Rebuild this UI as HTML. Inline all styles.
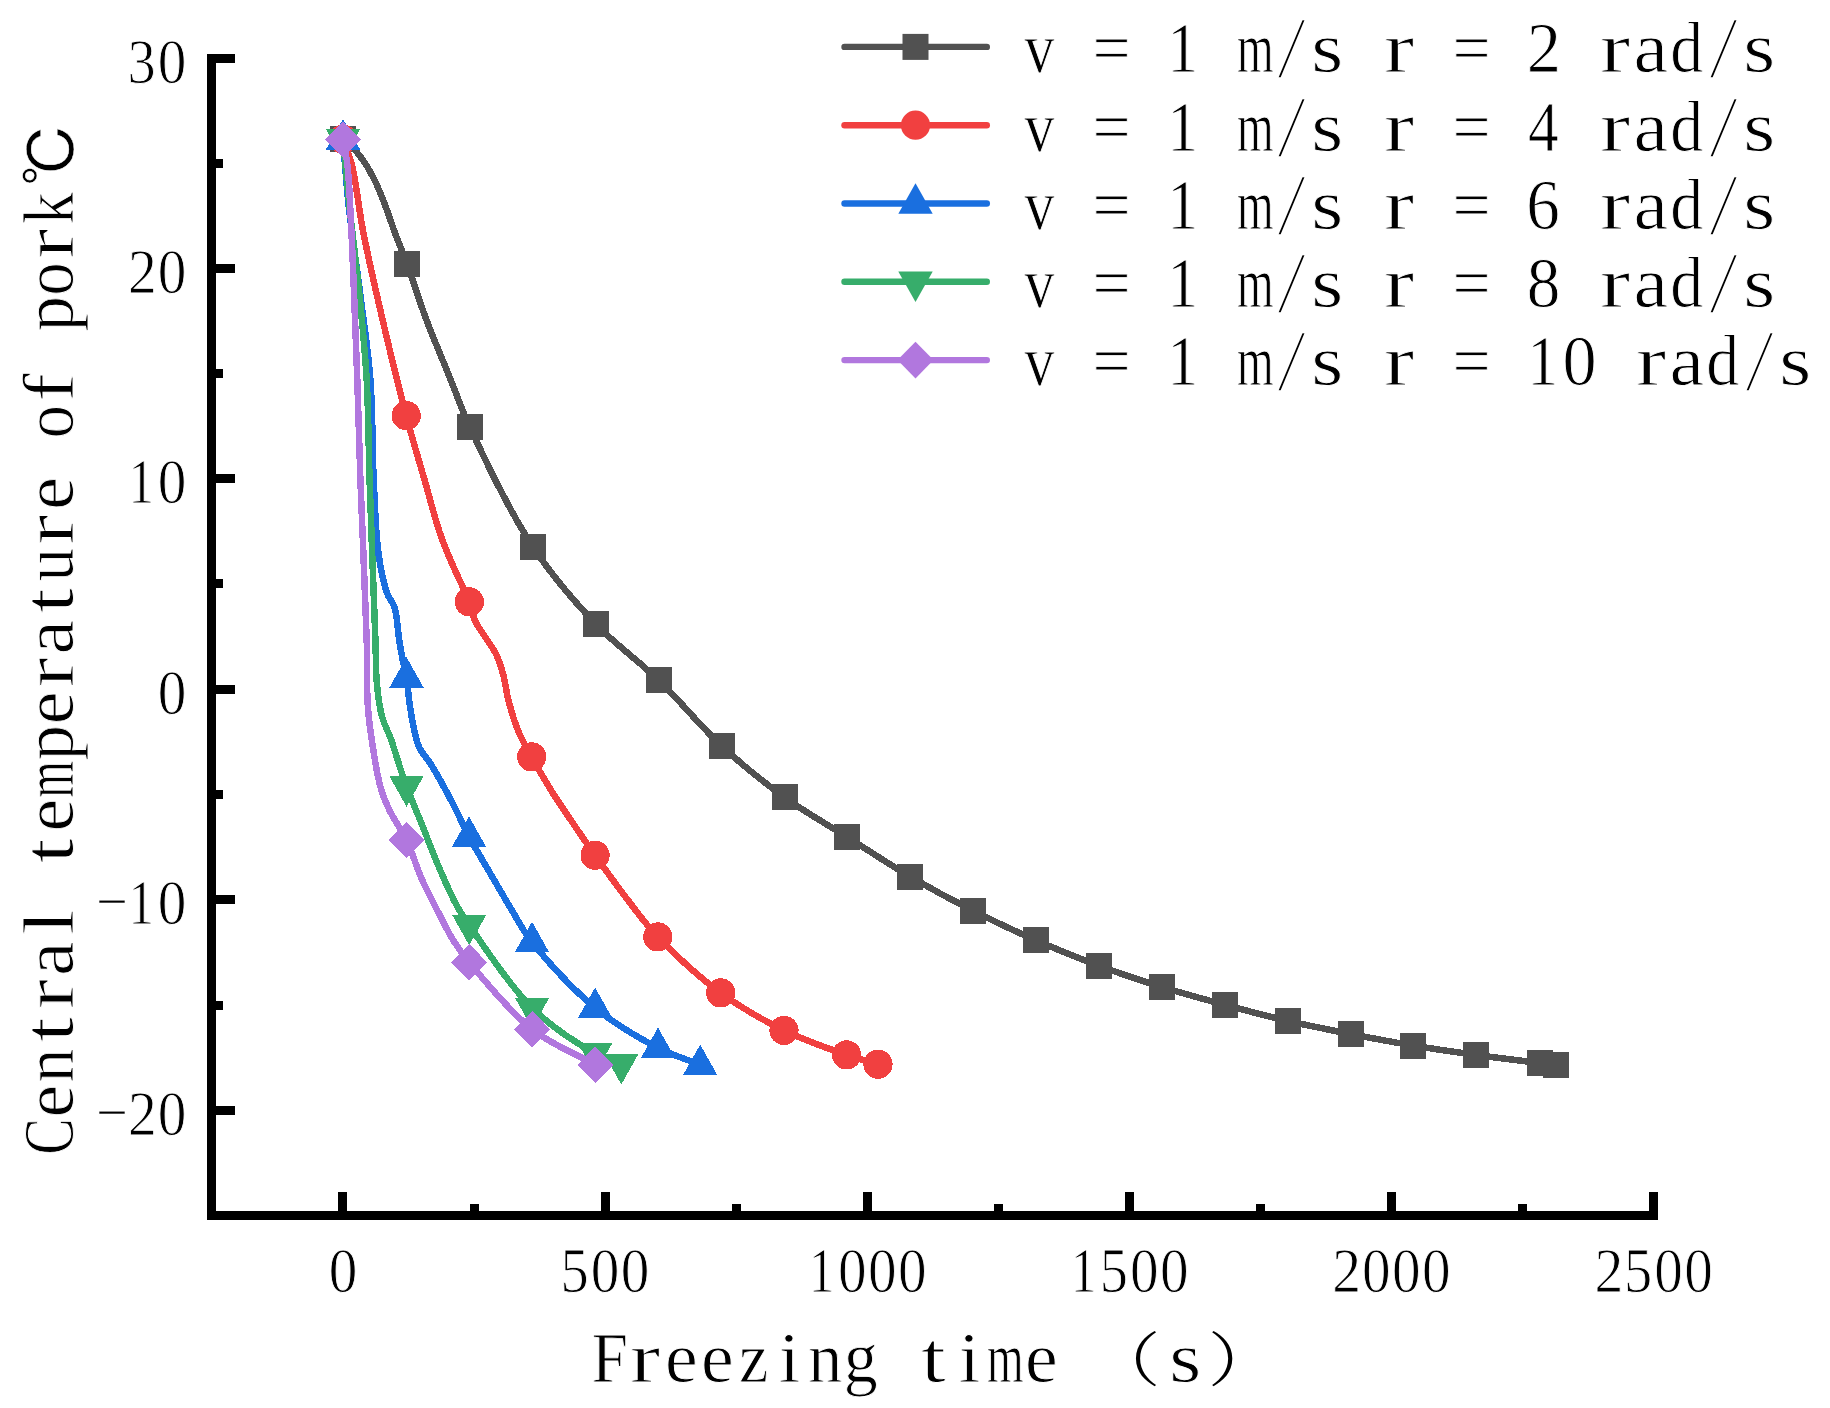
<!DOCTYPE html>
<html lang="en"><head><meta charset="utf-8"><title>Central temperature of pork vs freezing time</title>
<style>html,body{margin:0;padding:0;background:#fff}body{width:1830px;height:1408px;overflow:hidden}svg{display:block}text{font-family:'Liberation Serif','Noto Serif CJK SC',serif;fill:#000;white-space:pre;stroke:#fff;stroke-width:0.9px}.cjk{font-family:'Noto Serif CJK SC',serif;font-weight:300}.cjk{stroke:none}.sl{stroke-width:2.4px}.mn{stroke-width:2.5px}.deg{stroke-width:.5px;font-family:'IPAGothic','Noto Sans CJK SC',sans-serif}</style>
</head><body>
<svg width="1830" height="1408" viewBox="0 0 1830 1408">
<rect width="1830" height="1408" fill="#fff"/>
<path d="M343.0,139.3C347.0,142.9 351.3,146.1 355.0,150.0C358.7,154.0 361.8,158.2 365.0,163.0C368.5,168.4 371.8,174.5 375.0,181.0C378.6,188.3 381.8,196.6 385.0,205.0C388.5,213.9 391.5,223.5 395.0,233.0C398.7,243.0 402.6,251.9 406.9,263.7C412.7,279.4 419.0,300.2 426.1,319.0C433.6,338.9 443.1,360.9 450.8,380.0C457.6,396.8 461.1,408.3 470.0,427.4C484.4,458.5 510.1,512.4 533.0,546.9C552.6,576.6 574.1,601.3 596.0,624.2C616.1,645.2 638.1,660.3 658.6,680.1C680.0,700.7 699.9,725.8 721.5,745.8C742.0,764.7 763.1,781.9 784.6,797.4C805.0,812.1 826.1,823.7 847.0,836.9C867.9,850.1 888.8,864.1 910.0,876.5C930.8,888.7 951.9,900.1 973.1,910.8C993.9,921.3 1014.9,931.1 1036.0,940.3C1056.9,949.4 1078.0,958.0 1099.1,965.8C1119.8,973.5 1140.5,980.4 1161.5,986.9C1182.5,993.4 1203.9,999.2 1225.0,1004.9C1245.9,1010.5 1266.7,1016.0 1287.7,1020.9C1308.6,1025.7 1329.7,1029.9 1350.6,1034.0C1371.4,1038.1 1392.1,1042.0 1413.0,1045.5C1434.0,1049.0 1455.2,1052.1 1476.4,1055.0C1497.6,1057.9 1526.1,1061.3 1540.1,1063.1C1547.0,1064.0 1550.4,1064.4 1555.5,1065.0" fill="none" stroke="#515151" stroke-width="6.5" stroke-linejoin="round" shape-rendering="crispEdges"/>
<g shape-rendering="crispEdges"><rect x="330.0" y="126.3" width="26" height="26" fill="#515151"/><rect x="393.9" y="250.7" width="26" height="26" fill="#515151"/><rect x="457.0" y="414.4" width="26" height="26" fill="#515151"/><rect x="520.0" y="533.9" width="26" height="26" fill="#515151"/><rect x="583.0" y="611.2" width="26" height="26" fill="#515151"/><rect x="645.6" y="667.1" width="26" height="26" fill="#515151"/><rect x="708.5" y="732.8" width="26" height="26" fill="#515151"/><rect x="771.6" y="784.4" width="26" height="26" fill="#515151"/><rect x="834.0" y="823.9" width="26" height="26" fill="#515151"/><rect x="897.0" y="863.5" width="26" height="26" fill="#515151"/><rect x="960.1" y="897.8" width="26" height="26" fill="#515151"/><rect x="1023.0" y="927.3" width="26" height="26" fill="#515151"/><rect x="1086.1" y="952.8" width="26" height="26" fill="#515151"/><rect x="1148.5" y="973.9" width="26" height="26" fill="#515151"/><rect x="1212.0" y="991.9" width="26" height="26" fill="#515151"/><rect x="1274.7" y="1007.9" width="26" height="26" fill="#515151"/><rect x="1337.6" y="1021.0" width="26" height="26" fill="#515151"/><rect x="1400.0" y="1032.5" width="26" height="26" fill="#515151"/><rect x="1463.4" y="1042.0" width="26" height="26" fill="#515151"/><rect x="1527.1" y="1050.1" width="26" height="26" fill="#515151"/><rect x="1542.5" y="1052.0" width="26" height="26" fill="#515151"/></g>
<path d="M343.0,139.3C346.0,148.1 349.3,154.8 352.0,165.6C356.2,182.1 358.6,207.7 362.8,229.5C367.2,252.5 371.9,273.7 378.0,300.0C385.8,333.8 397.5,382.7 406.2,415.6C412.7,440.3 418.7,459.6 424.6,480.0C429.9,498.5 434.6,517.6 439.9,533.0C444.1,545.4 448.2,554.7 453.0,565.8C458.0,577.6 465.6,591.7 469.4,601.9C472.0,609.0 472.2,614.5 474.9,620.4C477.6,626.5 482.2,632.3 485.8,637.9C489.1,643.2 492.8,647.5 495.6,653.2C498.8,659.7 501.2,667.3 503.3,675.0C505.6,683.3 506.3,692.2 508.7,701.2C511.3,711.1 514.6,722.3 518.6,731.8C522.4,740.7 526.8,748.0 531.7,756.9C537.5,767.4 544.5,779.7 551.4,790.8C558.3,801.9 565.9,812.8 573.2,823.6C580.4,834.3 587.0,843.9 595.1,855.3C604.8,869.0 617.0,886.0 627.9,900.1C637.9,913.1 645.4,923.9 657.8,936.9C674.4,954.2 698.9,977.0 720.7,992.9C741.1,1007.8 762.5,1019.9 784.0,1030.4C804.5,1040.4 829.2,1048.9 846.6,1054.9C858.8,1059.1 867.5,1061.2 878.0,1064.3" fill="none" stroke="#F14040" stroke-width="6.5" stroke-linejoin="round" shape-rendering="crispEdges"/>
<g shape-rendering="crispEdges"><circle cx="343.0" cy="139.3" r="14.6" fill="#F14040"/><circle cx="406.2" cy="415.6" r="14.6" fill="#F14040"/><circle cx="469.4" cy="601.9" r="14.6" fill="#F14040"/><circle cx="531.7" cy="756.9" r="14.6" fill="#F14040"/><circle cx="595.1" cy="855.3" r="14.6" fill="#F14040"/><circle cx="657.8" cy="936.9" r="14.6" fill="#F14040"/><circle cx="720.7" cy="992.9" r="14.6" fill="#F14040"/><circle cx="784.0" cy="1030.4" r="14.6" fill="#F14040"/><circle cx="846.6" cy="1054.9" r="14.6" fill="#F14040"/><circle cx="878.0" cy="1064.3" r="14.6" fill="#F14040"/></g>
<path d="M343.0,139.3C344.8,160.9 346.0,180.3 348.5,204.0C351.6,232.9 357.2,269.4 361.0,300.0C364.5,327.9 368.3,351.8 370.4,380.0C372.8,411.4 372.2,449.1 373.7,480.0C375.0,506.8 375.7,534.1 378.7,555.0C380.9,570.2 383.9,584.7 387.4,594.0C389.5,599.7 392.6,601.4 394.4,607.0C397.3,615.7 397.9,632.3 399.5,642.0C400.6,649.0 401.5,654.1 402.7,660.0C403.9,665.9 405.4,671.1 406.5,677.4C407.7,684.7 408.1,693.1 409.3,701.2C410.5,709.7 411.9,719.3 413.7,727.4C415.3,734.5 416.2,741.0 419.1,747.1C422.0,753.4 426.7,757.5 431.1,764.6C437.5,775.0 446.4,791.3 453.0,803.9C458.9,815.2 463.2,825.9 469.0,836.7C474.9,847.7 481.4,858.2 488.0,869.5C495.0,881.5 502.4,894.5 509.8,906.7C517.1,918.7 521.8,929.0 532.0,942.0C547.0,961.2 572.9,989.6 595.1,1007.8C615.1,1024.2 638.7,1037.9 658.0,1047.8C673.1,1055.5 686.1,1059.1 700.2,1064.8" fill="none" stroke="#1A6FDF" stroke-width="6.5" stroke-linejoin="round" shape-rendering="crispEdges"/>
<g shape-rendering="crispEdges"><path d="M343.0,119.0L360.2,149.6L325.8,149.6Z" fill="#1A6FDF"/><path d="M406.5,657.1L423.7,687.7L389.3,687.7Z" fill="#1A6FDF"/><path d="M469.0,816.4L486.2,847.0L451.8,847.0Z" fill="#1A6FDF"/><path d="M532.0,921.7L549.2,952.3L514.8,952.3Z" fill="#1A6FDF"/><path d="M595.1,987.5L612.3,1018.1L577.9,1018.1Z" fill="#1A6FDF"/><path d="M658.0,1027.5L675.2,1058.1L640.8,1058.1Z" fill="#1A6FDF"/><path d="M700.2,1044.5L717.4,1075.1L683.0,1075.1Z" fill="#1A6FDF"/></g>
<path d="M343.0,139.3C345.1,160.9 346.7,180.3 349.2,204.0C352.2,232.9 357.0,269.4 360.0,300.0C362.7,327.9 365.1,351.8 366.7,380.0C368.5,411.5 368.4,442.8 369.6,480.0C371.1,527.1 374.1,603.4 375.4,640.0C376.1,659.1 375.6,670.2 376.9,683.7C378.0,695.5 379.4,706.8 382.0,716.5C384.2,724.7 388.0,730.9 390.7,738.4C393.5,746.2 395.8,754.4 398.4,762.4C401.0,770.4 403.2,777.4 406.5,786.3C410.8,797.9 417.0,812.3 422.4,825.8C428.1,840.0 433.9,855.6 439.9,869.5C445.5,882.5 451.8,896.6 457.4,906.7C461.5,914.1 463.5,916.9 469.2,925.1C481.7,943.0 509.3,985.8 532.1,1008.0C551.8,1027.2 578.2,1044.0 595.1,1053.4C605.3,1059.1 612.6,1060.6 621.3,1064.2" fill="none" stroke="#37AD6B" stroke-width="6.5" stroke-linejoin="round" shape-rendering="crispEdges"/>
<g shape-rendering="crispEdges"><path d="M343.0,159.6L360.2,129.0L325.8,129.0Z" fill="#37AD6B"/><path d="M406.5,806.6L423.7,776.0L389.3,776.0Z" fill="#37AD6B"/><path d="M469.2,945.4L486.4,914.8L452.0,914.8Z" fill="#37AD6B"/><path d="M532.1,1028.3L549.3,997.7L514.9,997.7Z" fill="#37AD6B"/><path d="M595.1,1073.7L612.3,1043.1L577.9,1043.1Z" fill="#37AD6B"/><path d="M621.3,1084.5L638.5,1053.9L604.1,1053.9Z" fill="#37AD6B"/></g>
<path d="M343.0,139.3C344.5,148.1 346.3,154.9 347.5,165.6C349.4,182.2 350.2,207.7 351.3,229.5C352.5,252.4 353.3,275.8 354.3,300.0C355.3,325.8 356.3,351.8 357.3,380.0C358.4,411.5 359.1,442.8 360.4,480.0C362.1,527.1 365.5,598.4 366.7,640.0C367.4,666.7 366.4,686.0 367.8,705.6C368.9,721.7 370.9,735.2 373.2,749.3C375.4,762.8 377.6,777.5 380.9,788.6C383.4,797.1 385.9,802.8 389.6,810.5C394.0,819.7 401.2,829.2 406.4,840.0C412.3,852.2 416.6,867.5 422.4,880.4C427.9,892.6 434.4,904.8 439.9,915.4C444.5,924.3 448.1,932.1 453.0,939.9C457.9,947.7 461.6,953.1 469.2,962.3C483.0,979.0 509.8,1011.8 532.3,1029.4C552.2,1045.0 574.3,1053.0 595.3,1064.8" fill="none" stroke="#B177DE" stroke-width="6.5" stroke-linejoin="round" shape-rendering="crispEdges"/>
<g shape-rendering="crispEdges"><path d="M343.0,121.0L361.0,139.3L343.0,157.6L325.0,139.3Z" fill="#B177DE"/><path d="M406.4,821.7L424.4,840.0L406.4,858.3L388.4,840.0Z" fill="#B177DE"/><path d="M469.2,944.0L487.2,962.3L469.2,980.6L451.2,962.3Z" fill="#B177DE"/><path d="M532.3,1011.1L550.3,1029.4L532.3,1047.7L514.3,1029.4Z" fill="#B177DE"/><path d="M595.3,1046.5L613.3,1064.8L595.3,1083.1L577.3,1064.8Z" fill="#B177DE"/></g>
<g fill="#000" shape-rendering="crispEdges">
<rect x="207" y="54" width="9" height="1166"/>
<rect x="207" y="1211" width="1451" height="9"/>
<rect x="207" y="1106" width="28" height="9"/>
<rect x="207" y="1001" width="16" height="9"/>
<rect x="207" y="895" width="28" height="9"/>
<rect x="207" y="790" width="16" height="9"/>
<rect x="207" y="685" width="28" height="9"/>
<rect x="207" y="579" width="16" height="9"/>
<rect x="207" y="474" width="28" height="9"/>
<rect x="207" y="369" width="16" height="9"/>
<rect x="207" y="264" width="28" height="9"/>
<rect x="207" y="159" width="16" height="9"/>
<rect x="207" y="54" width="28" height="9"/>
<rect x="338" y="1192" width="9" height="28"/>
<rect x="470" y="1204" width="9" height="16"/>
<rect x="601" y="1192" width="9" height="28"/>
<rect x="732" y="1204" width="9" height="16"/>
<rect x="863" y="1192" width="9" height="28"/>
<rect x="994" y="1204" width="9" height="16"/>
<rect x="1125" y="1192" width="9" height="28"/>
<rect x="1256" y="1204" width="9" height="16"/>
<rect x="1387" y="1192" width="9" height="28"/>
<rect x="1518" y="1204" width="9" height="16"/>
<rect x="1649" y="1192" width="9" height="28"/>
</g>
<text font-size="64" ><tspan class="mn" x="92.8" y="1128.1" textLength="38.4" lengthAdjust="spacingAndGlyphs">-</tspan><tspan x="127.9" y="1135.0" textLength="28.8" lengthAdjust="spacingAndGlyphs">2</tspan><tspan x="157.7" y="1135.0" textLength="28.6" lengthAdjust="spacingAndGlyphs">0</tspan></text>
<text font-size="64" ><tspan class="mn" x="92.8" y="917.1" textLength="38.4" lengthAdjust="spacingAndGlyphs">-</tspan><tspan x="128.5" y="924.0" textLength="25.5" lengthAdjust="spacingAndGlyphs">1</tspan><tspan x="157.7" y="924.0" textLength="28.6" lengthAdjust="spacingAndGlyphs">0</tspan></text>
<text font-size="64" ><tspan x="157.7" y="714.0" textLength="28.6" lengthAdjust="spacingAndGlyphs">0</tspan></text>
<text font-size="64" ><tspan x="128.5" y="503.0" textLength="25.5" lengthAdjust="spacingAndGlyphs">1</tspan><tspan x="157.7" y="503.0" textLength="28.6" lengthAdjust="spacingAndGlyphs">0</tspan></text>
<text font-size="64" ><tspan x="127.9" y="293.0" textLength="28.8" lengthAdjust="spacingAndGlyphs">2</tspan><tspan x="157.7" y="293.0" textLength="28.6" lengthAdjust="spacingAndGlyphs">0</tspan></text>
<text font-size="64" ><tspan x="127.6" y="83.0" textLength="28.2" lengthAdjust="spacingAndGlyphs">3</tspan><tspan x="157.7" y="83.0" textLength="28.6" lengthAdjust="spacingAndGlyphs">0</tspan></text>
<text font-size="64" ><tspan x="328.7" y="1291.9" textLength="28.6" lengthAdjust="spacingAndGlyphs">0</tspan></text>
<text font-size="64" ><tspan x="560.5" y="1291.9" textLength="28.2" lengthAdjust="spacingAndGlyphs">5</tspan><tspan x="590.8" y="1291.9" textLength="28.6" lengthAdjust="spacingAndGlyphs">0</tspan><tspan x="620.8" y="1291.9" textLength="28.6" lengthAdjust="spacingAndGlyphs">0</tspan></text>
<text font-size="64" ><tspan x="808.7" y="1291.9" textLength="25.5" lengthAdjust="spacingAndGlyphs">1</tspan><tspan x="837.9" y="1291.9" textLength="28.6" lengthAdjust="spacingAndGlyphs">0</tspan><tspan x="867.9" y="1291.9" textLength="28.6" lengthAdjust="spacingAndGlyphs">0</tspan><tspan x="897.9" y="1291.9" textLength="28.6" lengthAdjust="spacingAndGlyphs">0</tspan></text>
<text font-size="64" ><tspan x="1070.8" y="1291.9" textLength="25.5" lengthAdjust="spacingAndGlyphs">1</tspan><tspan x="1099.7" y="1291.9" textLength="28.2" lengthAdjust="spacingAndGlyphs">5</tspan><tspan x="1130.0" y="1291.9" textLength="28.6" lengthAdjust="spacingAndGlyphs">0</tspan><tspan x="1160.0" y="1291.9" textLength="28.6" lengthAdjust="spacingAndGlyphs">0</tspan></text>
<text font-size="64" ><tspan x="1332.3" y="1291.9" textLength="28.8" lengthAdjust="spacingAndGlyphs">2</tspan><tspan x="1362.1" y="1291.9" textLength="28.6" lengthAdjust="spacingAndGlyphs">0</tspan><tspan x="1392.1" y="1291.9" textLength="28.6" lengthAdjust="spacingAndGlyphs">0</tspan><tspan x="1422.1" y="1291.9" textLength="28.6" lengthAdjust="spacingAndGlyphs">0</tspan></text>
<text font-size="64" ><tspan x="1594.4" y="1291.9" textLength="28.8" lengthAdjust="spacingAndGlyphs">2</tspan><tspan x="1623.9" y="1291.9" textLength="28.2" lengthAdjust="spacingAndGlyphs">5</tspan><tspan x="1654.2" y="1291.9" textLength="28.6" lengthAdjust="spacingAndGlyphs">0</tspan><tspan x="1684.2" y="1291.9" textLength="28.6" lengthAdjust="spacingAndGlyphs">0</tspan></text>
<text font-size="72.5" ><tspan x="591.4" y="1382.4" textLength="36.6" lengthAdjust="spacingAndGlyphs">F</tspan><tspan x="629.9" y="1382.4" textLength="30.2" lengthAdjust="spacingAndGlyphs">r</tspan><tspan x="665.0" y="1382.4" textLength="32.7" lengthAdjust="spacingAndGlyphs">e</tspan><tspan x="701.0" y="1382.4" textLength="32.7" lengthAdjust="spacingAndGlyphs">e</tspan><tspan x="738.9" y="1382.4" textLength="29.4" lengthAdjust="spacingAndGlyphs">z</tspan><tspan x="778.5" y="1382.4" textLength="21.9" lengthAdjust="spacingAndGlyphs">i</tspan><tspan x="808.2" y="1382.4" textLength="34.0" lengthAdjust="spacingAndGlyphs">n</tspan><tspan x="843.7" y="1382.4" textLength="34.0" lengthAdjust="spacingAndGlyphs">g</tspan> <tspan x="920.9" y="1382.4" textLength="24.8" lengthAdjust="spacingAndGlyphs">t</tspan><tspan x="958.5" y="1382.4" textLength="21.9" lengthAdjust="spacingAndGlyphs">i</tspan><tspan x="987.0" y="1382.4" textLength="36.7" lengthAdjust="spacingAndGlyphs">m</tspan><tspan x="1025.0" y="1382.4" textLength="32.7" lengthAdjust="spacingAndGlyphs">e</tspan> <tspan class="cjk" x="1089.7" y="1381.2" font-size="59.0" textLength="70.8" lengthAdjust="spacingAndGlyphs">（</tspan><tspan x="1169.3" y="1382.4" textLength="32.0" lengthAdjust="spacingAndGlyphs">s</tspan><tspan class="cjk" x="1207.8" y="1381.2" font-size="59.0" textLength="70.8" lengthAdjust="spacingAndGlyphs">）</tspan></text>
<text font-size="72.5" transform="rotate(-90)"><tspan x="-1154.4" y="72.8" textLength="36.2" lengthAdjust="spacingAndGlyphs">C</tspan><tspan x="-1117.4" y="72.8" textLength="32.7" lengthAdjust="spacingAndGlyphs">e</tspan><tspan x="-1082.4" y="72.8" textLength="34.0" lengthAdjust="spacingAndGlyphs">n</tspan><tspan x="-1042.0" y="72.8" textLength="24.8" lengthAdjust="spacingAndGlyphs">t</tspan><tspan x="-1009.3" y="72.8" textLength="30.2" lengthAdjust="spacingAndGlyphs">r</tspan><tspan x="-976.0" y="72.8" textLength="34.6" lengthAdjust="spacingAndGlyphs">a</tspan><tspan x="-935.1" y="72.8" textLength="25.8" lengthAdjust="spacingAndGlyphs">l</tspan> <tspan x="-863.3" y="72.8" textLength="24.8" lengthAdjust="spacingAndGlyphs">t</tspan><tspan x="-831.5" y="72.8" textLength="32.7" lengthAdjust="spacingAndGlyphs">e</tspan><tspan x="-797.7" y="72.8" textLength="36.7" lengthAdjust="spacingAndGlyphs">m</tspan><tspan x="-760.4" y="72.8" textLength="35.4" lengthAdjust="spacingAndGlyphs">p</tspan><tspan x="-724.2" y="72.8" textLength="32.7" lengthAdjust="spacingAndGlyphs">e</tspan><tspan x="-687.6" y="72.8" textLength="30.2" lengthAdjust="spacingAndGlyphs">r</tspan><tspan x="-654.4" y="72.8" textLength="34.6" lengthAdjust="spacingAndGlyphs">a</tspan><tspan x="-613.1" y="72.8" textLength="24.8" lengthAdjust="spacingAndGlyphs">t</tspan><tspan x="-581.5" y="72.8" textLength="33.6" lengthAdjust="spacingAndGlyphs">u</tspan><tspan x="-544.7" y="72.8" textLength="30.2" lengthAdjust="spacingAndGlyphs">r</tspan><tspan x="-509.8" y="72.8" textLength="32.7" lengthAdjust="spacingAndGlyphs">e</tspan> <tspan x="-438.6" y="72.8" textLength="33.6" lengthAdjust="spacingAndGlyphs">o</tspan><tspan x="-401.7" y="72.8" textLength="28.6" lengthAdjust="spacingAndGlyphs">f</tspan> <tspan x="-331.5" y="72.8" textLength="35.4" lengthAdjust="spacingAndGlyphs">p</tspan><tspan x="-295.7" y="72.8" textLength="33.6" lengthAdjust="spacingAndGlyphs">o</tspan><tspan x="-258.7" y="72.8" textLength="30.2" lengthAdjust="spacingAndGlyphs">r</tspan><tspan x="-223.9" y="72.8" textLength="31.8" lengthAdjust="spacingAndGlyphs">k</tspan><tspan class="deg" x="-186.2" y="75.7" font-size="64.6">℃</tspan></text>
<path d="M844.5,46.9H986.8" stroke="#515151" stroke-width="6.4" stroke-linecap="round" fill="none"/>
<rect x="902.5" y="33.9" width="26" height="26" fill="#515151"/>
<text font-size="72.5" ><tspan x="1024.3" y="72.4" textLength="30.4" lengthAdjust="spacingAndGlyphs">v</tspan> <tspan x="1092.4" y="72.4" textLength="38.1" lengthAdjust="spacingAndGlyphs">=</tspan> <tspan x="1167.5" y="72.4" textLength="30.4" lengthAdjust="spacingAndGlyphs">1</tspan> <tspan x="1237.0" y="72.4" textLength="36.7" lengthAdjust="spacingAndGlyphs">m</tspan><tspan class="sl" x="1276.5" y="77.4" font-size="88.0" textLength="30.1" lengthAdjust="spacingAndGlyphs">/</tspan><tspan x="1311.3" y="72.4" textLength="32.0" lengthAdjust="spacingAndGlyphs">s</tspan> <tspan x="1383.9" y="72.4" textLength="30.2" lengthAdjust="spacingAndGlyphs">r</tspan> <tspan x="1452.4" y="72.4" textLength="38.1" lengthAdjust="spacingAndGlyphs">=</tspan> <tspan x="1526.7" y="72.4" textLength="34.3" lengthAdjust="spacingAndGlyphs">2</tspan> <tspan x="1599.9" y="72.4" textLength="30.2" lengthAdjust="spacingAndGlyphs">r</tspan><tspan x="1633.4" y="72.4" textLength="34.6" lengthAdjust="spacingAndGlyphs">a</tspan><tspan x="1670.3" y="72.4" textLength="32.9" lengthAdjust="spacingAndGlyphs">d</tspan><tspan class="sl" x="1708.5" y="77.4" font-size="88.0" textLength="30.1" lengthAdjust="spacingAndGlyphs">/</tspan><tspan x="1743.3" y="72.4" textLength="32.0" lengthAdjust="spacingAndGlyphs">s</tspan></text>
<path d="M844.5,125.2H986.8" stroke="#F14040" stroke-width="6.4" stroke-linecap="round" fill="none"/>
<circle cx="915.5" cy="125.2" r="14.6" fill="#F14040"/>
<text font-size="72.5" ><tspan x="1024.3" y="150.6" textLength="30.4" lengthAdjust="spacingAndGlyphs">v</tspan> <tspan x="1092.4" y="150.6" textLength="38.1" lengthAdjust="spacingAndGlyphs">=</tspan> <tspan x="1167.5" y="150.6" textLength="30.4" lengthAdjust="spacingAndGlyphs">1</tspan> <tspan x="1237.0" y="150.6" textLength="36.7" lengthAdjust="spacingAndGlyphs">m</tspan><tspan class="sl" x="1276.5" y="155.6" font-size="88.0" textLength="30.1" lengthAdjust="spacingAndGlyphs">/</tspan><tspan x="1311.3" y="150.6" textLength="32.0" lengthAdjust="spacingAndGlyphs">s</tspan> <tspan x="1383.9" y="150.6" textLength="30.2" lengthAdjust="spacingAndGlyphs">r</tspan> <tspan x="1452.4" y="150.6" textLength="38.1" lengthAdjust="spacingAndGlyphs">=</tspan> <tspan x="1528.0" y="150.6" textLength="30.7" lengthAdjust="spacingAndGlyphs">4</tspan> <tspan x="1599.9" y="150.6" textLength="30.2" lengthAdjust="spacingAndGlyphs">r</tspan><tspan x="1633.4" y="150.6" textLength="34.6" lengthAdjust="spacingAndGlyphs">a</tspan><tspan x="1670.3" y="150.6" textLength="32.9" lengthAdjust="spacingAndGlyphs">d</tspan><tspan class="sl" x="1708.5" y="155.6" font-size="88.0" textLength="30.1" lengthAdjust="spacingAndGlyphs">/</tspan><tspan x="1743.3" y="150.6" textLength="32.0" lengthAdjust="spacingAndGlyphs">s</tspan></text>
<path d="M844.5,203.5H986.8" stroke="#1A6FDF" stroke-width="6.4" stroke-linecap="round" fill="none"/>
<path d="M915.5,183.2L932.7,213.8L898.3,213.8Z" fill="#1A6FDF"/>
<text font-size="72.5" ><tspan x="1024.3" y="228.8" textLength="30.4" lengthAdjust="spacingAndGlyphs">v</tspan> <tspan x="1092.4" y="228.8" textLength="38.1" lengthAdjust="spacingAndGlyphs">=</tspan> <tspan x="1167.5" y="228.8" textLength="30.4" lengthAdjust="spacingAndGlyphs">1</tspan> <tspan x="1237.0" y="228.8" textLength="36.7" lengthAdjust="spacingAndGlyphs">m</tspan><tspan class="sl" x="1276.5" y="233.8" font-size="88.0" textLength="30.1" lengthAdjust="spacingAndGlyphs">/</tspan><tspan x="1311.3" y="228.8" textLength="32.0" lengthAdjust="spacingAndGlyphs">s</tspan> <tspan x="1383.9" y="228.8" textLength="30.2" lengthAdjust="spacingAndGlyphs">r</tspan> <tspan x="1452.4" y="228.8" textLength="38.1" lengthAdjust="spacingAndGlyphs">=</tspan> <tspan x="1526.3" y="228.8" textLength="33.6" lengthAdjust="spacingAndGlyphs">6</tspan> <tspan x="1599.9" y="228.8" textLength="30.2" lengthAdjust="spacingAndGlyphs">r</tspan><tspan x="1633.4" y="228.8" textLength="34.6" lengthAdjust="spacingAndGlyphs">a</tspan><tspan x="1670.3" y="228.8" textLength="32.9" lengthAdjust="spacingAndGlyphs">d</tspan><tspan class="sl" x="1708.5" y="233.8" font-size="88.0" textLength="30.1" lengthAdjust="spacingAndGlyphs">/</tspan><tspan x="1743.3" y="228.8" textLength="32.0" lengthAdjust="spacingAndGlyphs">s</tspan></text>
<path d="M844.5,281.8H986.8" stroke="#37AD6B" stroke-width="6.4" stroke-linecap="round" fill="none"/>
<path d="M915.5,302.1L932.7,271.5L898.3,271.5Z" fill="#37AD6B"/>
<text font-size="72.5" ><tspan x="1024.3" y="307.0" textLength="30.4" lengthAdjust="spacingAndGlyphs">v</tspan> <tspan x="1092.4" y="307.0" textLength="38.1" lengthAdjust="spacingAndGlyphs">=</tspan> <tspan x="1167.5" y="307.0" textLength="30.4" lengthAdjust="spacingAndGlyphs">1</tspan> <tspan x="1237.0" y="307.0" textLength="36.7" lengthAdjust="spacingAndGlyphs">m</tspan><tspan class="sl" x="1276.5" y="312.0" font-size="88.0" textLength="30.1" lengthAdjust="spacingAndGlyphs">/</tspan><tspan x="1311.3" y="307.0" textLength="32.0" lengthAdjust="spacingAndGlyphs">s</tspan> <tspan x="1383.9" y="307.0" textLength="30.2" lengthAdjust="spacingAndGlyphs">r</tspan> <tspan x="1452.4" y="307.0" textLength="38.1" lengthAdjust="spacingAndGlyphs">=</tspan> <tspan x="1526.7" y="307.0" textLength="33.6" lengthAdjust="spacingAndGlyphs">8</tspan> <tspan x="1599.9" y="307.0" textLength="30.2" lengthAdjust="spacingAndGlyphs">r</tspan><tspan x="1633.4" y="307.0" textLength="34.6" lengthAdjust="spacingAndGlyphs">a</tspan><tspan x="1670.3" y="307.0" textLength="32.9" lengthAdjust="spacingAndGlyphs">d</tspan><tspan class="sl" x="1708.5" y="312.0" font-size="88.0" textLength="30.1" lengthAdjust="spacingAndGlyphs">/</tspan><tspan x="1743.3" y="307.0" textLength="32.0" lengthAdjust="spacingAndGlyphs">s</tspan></text>
<path d="M844.5,360.1H986.8" stroke="#B177DE" stroke-width="6.4" stroke-linecap="round" fill="none"/>
<path d="M915.5,341.8L933.5,360.1L915.5,378.4L897.5,360.1Z" fill="#B177DE"/>
<text font-size="72.5" ><tspan x="1024.3" y="385.2" textLength="30.4" lengthAdjust="spacingAndGlyphs">v</tspan> <tspan x="1092.4" y="385.2" textLength="38.1" lengthAdjust="spacingAndGlyphs">=</tspan> <tspan x="1167.5" y="385.2" textLength="30.4" lengthAdjust="spacingAndGlyphs">1</tspan> <tspan x="1237.0" y="385.2" textLength="36.7" lengthAdjust="spacingAndGlyphs">m</tspan><tspan class="sl" x="1276.5" y="390.2" font-size="88.0" textLength="30.1" lengthAdjust="spacingAndGlyphs">/</tspan><tspan x="1311.3" y="385.2" textLength="32.0" lengthAdjust="spacingAndGlyphs">s</tspan> <tspan x="1383.9" y="385.2" textLength="30.2" lengthAdjust="spacingAndGlyphs">r</tspan> <tspan x="1452.4" y="385.2" textLength="38.1" lengthAdjust="spacingAndGlyphs">=</tspan> <tspan x="1527.5" y="385.2" textLength="30.4" lengthAdjust="spacingAndGlyphs">1</tspan><tspan x="1562.4" y="385.2" textLength="34.1" lengthAdjust="spacingAndGlyphs">0</tspan> <tspan x="1635.9" y="385.2" textLength="30.2" lengthAdjust="spacingAndGlyphs">r</tspan><tspan x="1669.4" y="385.2" textLength="34.6" lengthAdjust="spacingAndGlyphs">a</tspan><tspan x="1706.3" y="385.2" textLength="32.9" lengthAdjust="spacingAndGlyphs">d</tspan><tspan class="sl" x="1744.5" y="390.2" font-size="88.0" textLength="30.1" lengthAdjust="spacingAndGlyphs">/</tspan><tspan x="1779.3" y="385.2" textLength="32.0" lengthAdjust="spacingAndGlyphs">s</tspan></text>
</svg></body></html>
